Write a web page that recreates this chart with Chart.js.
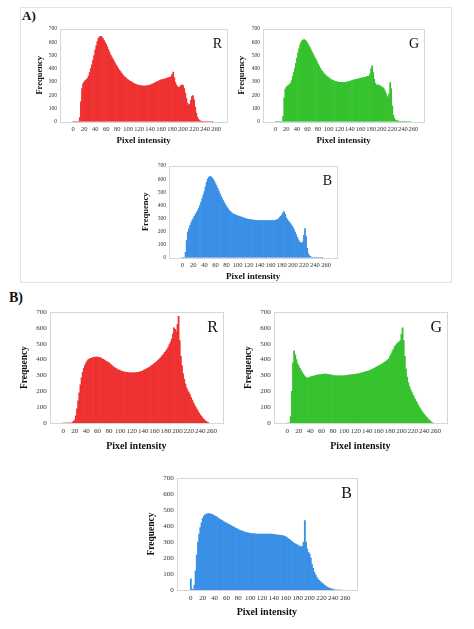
<!DOCTYPE html>
<html>
<head>
<meta charset="utf-8">
<script src="https://cdn.jsdelivr.net/npm/chart.js@4/dist/chart.umd.min.js"></script>
<style>
  html, body { margin: 0; padding: 0; background: #fff; }
  #stage { position: relative; width: 474px; height: 629px; overflow: hidden; background: #fff; }
  #stage canvas { position: absolute; }
  .frame { position: absolute; left: 20px; top: 7px; width: 430px; height: 274px; border: 1px solid #e2e2e2; }
  .part { position: absolute; font: bold 13px "Liberation Serif", "Times New Roman", serif; color: #111; }
</style>
</head>
<body>
<div id="stage">
  <div class="frame"></div>
  <div class="part" style="left:22px;top:8px;">A)</div>
  <div class="part" style="left:9px;top:290px;font-size:14px;">B)</div>
</div>
<script>
// Histogram bins (pixel intensity, bin width 2) and axis ticks
const intensity = Array.from({ length: 128 }, (_, i) => i * 2);
const xTicks = [0, 20, 40, 60, 80, 100, 120, 140, 160, 180, 200, 220, 240, 260];
const yTicks = [0, 100, 200, 300, 400, 500, 600, 700];

// A) original image, per channel
const aRed = [
  0, 0, 0, 0, 0, 0, 30, 150, 250, 285,
  300, 310, 318, 328, 345, 370, 400, 430, 465, 500,
  540, 575, 605, 630, 640, 645, 640, 630, 615, 600,
  585, 565, 545, 525, 505, 490, 475, 460, 445, 430,
  415, 400, 390, 378, 367, 355, 345, 337, 330, 322,
  316, 310, 305, 300, 295, 290, 286, 282, 278, 276,
  274, 272, 270, 270, 268, 268, 270, 270, 272, 274,
  276, 280, 283, 288, 292, 296, 300, 305, 308, 312,
  316, 318, 320, 322, 325, 328, 330, 332, 335, 340,
  355, 375, 330, 295, 275, 262, 258, 262, 272, 278,
  272, 250, 215, 175, 140, 125, 130, 160, 190, 196,
  165, 110, 65, 35, 18, 8, 4, 2, 1, 0,
  0, 0, 0, 0, 0, 0, 0, 0];
const aGreen = [
  0, 0, 0, 0, 0, 0, 0, 40, 180, 245,
  260, 268, 275, 280, 290, 310, 340, 370, 400, 440,
  480, 520, 550, 580, 600, 612, 618, 620, 615, 605,
  592, 578, 563, 548, 532, 516, 500, 484, 468, 452,
  435, 420, 405, 392, 380, 370, 360, 352, 345, 338,
  332, 326, 320, 316, 312, 308, 305, 302, 300, 298,
  297, 296, 296, 295, 295, 295, 296, 298, 300, 302,
  305, 308, 310, 313, 316, 318, 320, 322, 324, 326,
  328, 330, 331, 333, 335, 337, 340, 342, 345, 360,
  400, 422, 370, 320, 290, 278, 275, 278, 272, 266,
  262, 258, 250, 235, 215, 195, 180, 210, 295, 250,
  120, 50, 25, 12, 8, 5, 3, 2, 1, 0,
  0, 0, 0, 0, 0, 0, 0, 0];
const aBlue = [
  0, 0, 0, 40, 130, 195, 220, 245, 265, 285,
  300, 315, 330, 345, 360, 378, 400, 425, 450, 478,
  505, 540, 575, 600, 615, 620, 618, 610, 598, 582,
  565, 548, 530, 510, 490, 470, 452, 435, 420, 405,
  390, 378, 365, 355, 347, 340, 335, 330, 326, 323,
  320, 317, 314, 311, 308, 305, 302, 299, 296, 294,
  292, 290, 289, 288, 287, 286, 285, 284, 284, 283,
  283, 283, 283, 283, 283, 283, 283, 282, 282, 282,
  282, 282, 282, 283, 284, 286, 290, 297, 305, 315,
  325, 340, 352, 330, 305, 290, 280, 270, 258, 245,
  232, 215, 195, 175, 155, 135, 120, 113, 112, 118,
  170, 222, 160, 70, 28, 14, 7, 3, 1, 0,
  0, 0, 0, 0, 0, 0, 0, 0];

// B) processed image, per channel
const bRed = [
  0, 0, 0, 0, 0, 0, 0, 0, 5, 10,
  20, 45, 90, 140, 190, 240, 285, 320, 345, 365,
  380, 392, 400, 405, 408, 410, 412, 414, 416, 416,
  416, 414, 412, 409, 405, 401, 397, 392, 388, 384,
  379, 373, 367, 360, 354, 349, 344, 340, 336, 333,
  330, 327, 325, 323, 321, 320, 319, 318, 317, 316,
  316, 316, 316, 317, 318, 319, 320, 322, 324, 326,
  330, 334, 338, 342, 346, 350, 355, 360, 365, 370,
  376, 382, 388, 395, 402, 410, 418, 426, 435, 445,
  455, 465, 478, 495, 510, 530, 560, 600, 590, 575,
  620, 672, 520, 420, 360, 310, 275, 245, 222, 205,
  192, 178, 160, 145, 128, 114, 100, 88, 75, 62,
  52, 42, 32, 24, 17, 11, 6, 2];
const bGreen = [
  0, 0, 0, 40, 200, 380, 455, 430, 400, 375,
  360, 345, 332, 320, 308, 298, 290, 285, 284, 286,
  290, 292, 294, 296, 298, 300, 302, 303, 304, 305,
  306, 307, 308, 308, 308, 307, 306, 305, 304, 302,
  300, 299, 298, 298, 297, 297, 297, 297, 297, 298,
  298, 299, 300, 301, 302, 303, 304, 305, 306, 307,
  308, 309, 310, 312, 314, 316, 318, 320, 322, 324,
  326, 328, 331, 334, 337, 340, 344, 348, 352, 356,
  360, 364, 368, 372, 377, 382, 387, 392, 398, 405,
  420, 435, 450, 465, 480, 490, 500, 505, 512, 520,
  560, 600, 520, 420, 340, 290, 255, 230, 210, 195,
  180, 165, 150, 136, 122, 108, 96, 84, 73, 63,
  55, 46, 37, 28, 20, 13, 7, 2];
const bBlue = [
  70, 5, 0, 30, 120, 220, 300, 350, 390, 420,
  448, 462, 470, 474, 476, 477, 476, 475, 472, 468,
  464, 460, 455, 450, 445, 440, 435, 430, 426, 422,
  418, 414, 410, 406, 402, 398, 394, 390, 386, 382,
  378, 375, 372, 369, 366, 363, 361, 359, 357, 355,
  354, 353, 352, 351, 351, 350, 350, 350, 350, 350,
  350, 350, 350, 350, 350, 350, 350, 350, 349, 348,
  347, 346, 345, 344, 343, 342, 341, 340, 338, 335,
  332, 328, 322, 316, 310, 304, 298, 292, 288, 284,
  280, 276, 272, 270, 274, 300, 434, 300, 255, 235,
  225, 200, 160, 135, 112, 95, 80, 68, 60, 52,
  46, 40, 34, 28, 22, 18, 14, 10, 7, 5,
  3, 1, 0, 0, 0, 0, 0, 0];

const SERIF = '"Liberation Serif", "Times New Roman", serif';
const RED = '#ee3131', GREEN = '#35c22e', BLUE = '#3a8fe6';

// Light plot-area border and the channel letter in the top right corner.
const panelDeco = {
  id: 'panelDeco',
  afterDraw(chart, args, opts) {
    const { ctx, chartArea: a } = chart;
    ctx.save();
    ctx.strokeStyle = '#d6d6d6';
    ctx.lineWidth = 1;
    ctx.strokeRect(Math.round(a.left) + 0.5, Math.round(a.top) + 0.5, Math.round(a.right - a.left), Math.round(a.bottom - a.top));
    ctx.fillStyle = '#111';
    ctx.font = `${opts.size}px ${SERIF}`;
    ctx.textAlign = 'right';
    ctx.textBaseline = 'top';
    ctx.fillText(opts.text, a.right - 5, a.top + 8);
    ctx.restore();
  },
};

// box = plot area in page pixels; freqOff / pixOff = title centre distance from the plot edge
function histogram(values, color, letter, box, s) {
  const yW = s.freqOff + s.freqSize * 0.6;
  const xH = s.pixOff + s.pixSize * 0.6;
  const padT = 8, padR = 8;
  const w = Math.round(yW + (box.r - box.l) + padR);
  const h = Math.round(padT + (box.b - box.t) + xH);
  const canvas = document.createElement('canvas');
  canvas.width = w; canvas.height = h;
  canvas.style.left = (box.l - yW) + 'px';
  canvas.style.top = (box.t - padT) + 'px';
  canvas.style.width = w + 'px'; canvas.style.height = h + 'px';
  document.getElementById('stage').appendChild(canvas);

  return new Chart(canvas, {
    type: 'bar',
    data: {
      datasets: [{
        data: intensity.map((x, i) => ({ x, y: values[i] })),
        backgroundColor: color,
        borderWidth: 0,
        barPercentage: 1,
        categoryPercentage: 1,
      }],
    },
    options: {
      responsive: false,
      animation: false,
      devicePixelRatio: 1,
      layout: { padding: { top: padT, right: padR, left: 0, bottom: 0 } },
      plugins: { legend: { display: false }, tooltip: { enabled: false }, panelDeco: { text: letter, size: s.letterSize } },
      scales: {
        x: {
          type: 'linear', min: -13, max: 269,
          afterBuildTicks: (ax) => { ax.ticks = xTicks.map((v) => ({ value: v })); },
          afterFit: (ax) => { ax.height = xH; },
          grid: { display: false, drawTicks: false },
          border: { display: false },
          ticks: { autoSkip: false, maxRotation: 0, padding: 4, color: '#333', font: { family: SERIF, size: s.xTickSize } },
          title: { display: true, text: 'Pixel intensity', padding: 0, color: '#111', font: { family: SERIF, size: s.pixSize, weight: 'bold' } },
        },
        y: {
          min: 0, max: 700,
          afterBuildTicks: (ax) => { ax.ticks = yTicks.map((v) => ({ value: v })); },
          afterFit: (ax) => { ax.width = yW; },
          grid: { display: false, drawTicks: false },
          border: { display: false },
          ticks: { padding: 3, color: '#333', font: { family: SERIF, size: s.yTickSize } },
          title: { display: true, text: 'Frequency', padding: 0, color: '#111', font: { family: SERIF, size: s.freqSize, weight: 'bold' } },
        },
      },
    },
    plugins: [panelDeco],
  });
}

const styleA = { freqOff: 20, pixOff: 19, freqSize: 8.5, pixSize: 9, xTickSize: 6.5, yTickSize: 5.5, letterSize: 14 };
const styleB = { freqOff: 25, pixOff: 23, freqSize: 9.5, pixSize: 10, xTickSize: 7, yTickSize: 7, letterSize: 16 };

histogram(aRed, RED, 'R', { l: 60, t: 29, r: 227, b: 122 }, styleA);
histogram(aGreen, GREEN, 'G', { l: 263, t: 29, r: 424, b: 122 }, { ...styleA, freqOff: 21 });
histogram(aBlue, BLUE, 'B', { l: 169, t: 166, r: 337, b: 258 }, { ...styleA, freqOff: 23 });
histogram(bRed, RED, 'R', { l: 50, t: 312, r: 223, b: 423 }, styleB);
histogram(bGreen, GREEN, 'G', { l: 274, t: 312, r: 447, b: 423 }, styleB);
histogram(bBlue, BLUE, 'B', { l: 177, t: 478, r: 357, b: 590 }, { ...styleB, pixOff: 22 });
</script>
</body>
</html>
